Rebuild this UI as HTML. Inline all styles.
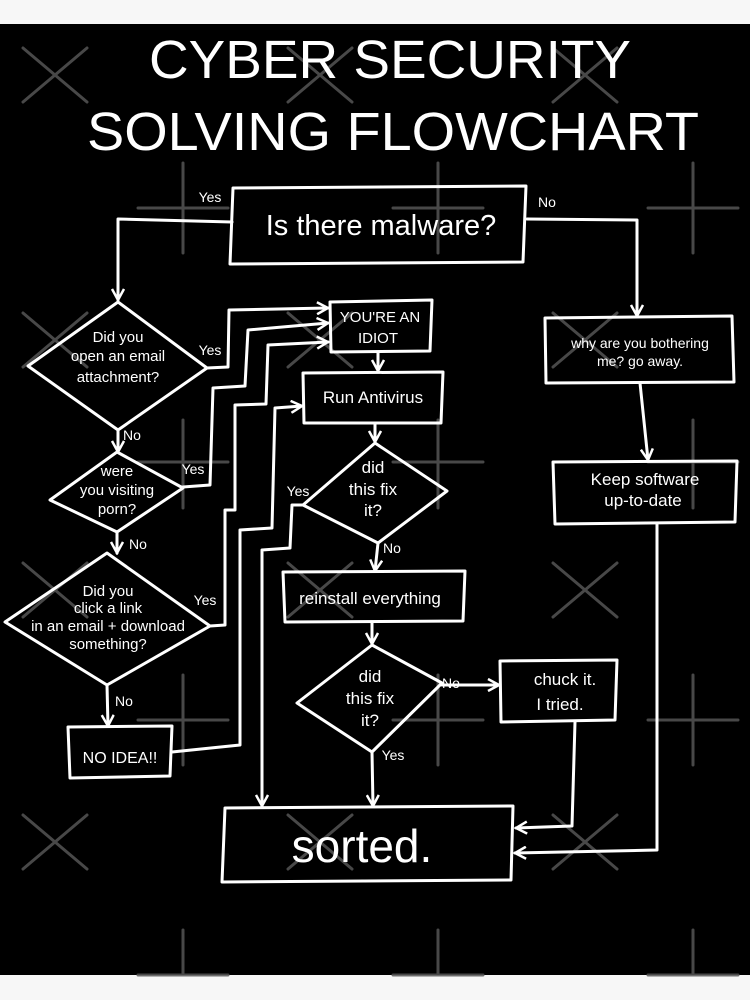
<!DOCTYPE html>
<html><head><meta charset="utf-8"><style>
html,body{margin:0;padding:0;background:#f7f7f7;}
svg{display:block;}
text{font-family:"Liberation Sans Narrow","Liberation Sans",sans-serif;fill:#fff;text-anchor:middle;}
</style></head><body>
<svg width="750" height="1000" viewBox="0 0 750 1000" xmlns="http://www.w3.org/2000/svg">
<defs>
<marker id="a" viewBox="0 0 14 14" refX="12" refY="7" markerWidth="14" markerHeight="14" markerUnits="userSpaceOnUse" orient="auto">
<path d="M1,1 L12,7 L1,13" fill="none" stroke="#fff" stroke-width="2.5"/>
</marker>
</defs>
<rect x="0" y="0" width="750" height="1000" fill="#f7f7f7"/>
<rect x="0" y="24" width="750" height="951" fill="#000"/>
<!-- watermarks -->
<g stroke="#555" stroke-width="3" stroke-linecap="round" opacity="0.85">
<path d="M23,48 L87,102 M87,48 L23,102 M288,48 L352,102 M352,48 L288,102 M553,48 L617,102 M617,48 L553,102"/>
<path d="M23,313 L87,367 M87,313 L23,367 M288,313 L352,367 M352,313 L288,367 M553,313 L617,367 M617,313 L553,367"/>
<path d="M23,563 L87,617 M87,563 L23,617 M288,563 L352,617 M352,563 L288,617 M553,563 L617,617 M617,563 L553,617"/>
<path d="M23,815 L87,869 M87,815 L23,869 M288,815 L352,869 M352,815 L288,869 M553,815 L617,869 M617,815 L553,869"/>
<path d="M183,163 V253 M138,208 H228 M438,163 V253 M393,208 H483 M693,163 V253 M648,208 H738"/>
<path d="M183,420 V508 M138,462 H228 M438,420 V508 M393,462 H483 M693,420 V508 M648,462 H738"/>
<path d="M183,675 V765 M138,720 H228 M438,675 V765 M393,720 H483 M693,675 V765 M648,720 H738"/>
<path d="M183,930 V975 M138,975 H228 M438,930 V975 M393,975 H483 M693,930 V975 M648,975 H738"/>
</g>
<!-- title -->
<text x="390" y="78" font-size="54" textLength="482" lengthAdjust="spacingAndGlyphs">CYBER SECURITY</text>
<text x="393" y="150" font-size="54" textLength="612" lengthAdjust="spacingAndGlyphs">SOLVING FLOWCHART</text>
<g fill="none" stroke="#fff" stroke-width="3" stroke-linejoin="round" stroke-linecap="round">
<!-- boxes -->
<path d="M233,188 L526,186 L523,262 L230,264 Z"/>
<path d="M545,318 L732,316 L734,382 L546,383 Z"/>
<path d="M553,462 L737,461 L735,522 L555,524 Z"/>
<path d="M330,302 L432,300 L430,351 L331,352 Z"/>
<path d="M303,373 L443,372 L441,423 L304,423 Z"/>
<path d="M283,572 L465,571 L463,621 L285,622 Z"/>
<path d="M500,661 L617,660 L615,720 L501,722 Z"/>
<path d="M68,727 L172,726 L170,776 L70,778 Z"/>
<path d="M225,808 L513,806 L511,880 L222,882 Z"/>
<!-- diamonds -->
<path d="M118,302 L207,368 L118,430 L28,366 Z"/>
<path d="M117,452 L183,488 L117,532 L50,500 Z"/>
<path d="M107,553 L210,626 L107,685 L5,622 Z"/>
<path d="M375,443 L447,491 L378,543 L303,505 Z"/>
<path d="M372,645 L442,683 L372,752 L297,703 Z"/>
<!-- connectors -->
<path d="M232,222 L118,219 L118,300" marker-end="url(#a)"/>
<path d="M527,219 L637,220 L637,316" marker-end="url(#a)"/>
<path d="M640,383 L648,460" marker-end="url(#a)"/>
<path d="M657,524 L657,850 L515,853" marker-end="url(#a)"/>
<path d="M118,430 L118,452" marker-end="url(#a)"/>
<path d="M117,532 L117,553" marker-end="url(#a)"/>
<path d="M107,685 L108,726" marker-end="url(#a)"/>
<path d="M207,368 L228,367 L229,310 L328,308" marker-end="url(#a)"/>
<path d="M183,487 L210,485 L213,388 L245,386 L248,330 L328,323" marker-end="url(#a)"/>
<path d="M210,626 L225,625 L225,510 L235,510 L235,405 L266,404 L268,345 L328,342" marker-end="url(#a)"/>
<path d="M172,752 L240,745 L240,530 L272,528 L275,408 L302,406" marker-end="url(#a)"/>
<path d="M378,352 L378,371" marker-end="url(#a)"/>
<path d="M375,423 L375,442" marker-end="url(#a)"/>
<path d="M303,505 L292,505 L290,548 L262,550 L262,806" marker-end="url(#a)"/>
<path d="M378,543 L375,571" marker-end="url(#a)"/>
<path d="M372,622 L372,644" marker-end="url(#a)"/>
<path d="M442,685 L499,685" marker-end="url(#a)"/>
<path d="M372,752 L373,806" marker-end="url(#a)"/>
<path d="M575,722 L572,826 L516,828" marker-end="url(#a)"/>
</g>
<!-- labels -->
<g font-size="14">
<text x="210" y="202">Yes</text>
<text x="547" y="207">No</text>
<text x="210" y="355">Yes</text>
<text x="132" y="440">No</text>
<text x="193" y="474">Yes</text>
<text x="138" y="549">No</text>
<text x="205" y="605">Yes</text>
<text x="124" y="706">No</text>
<text x="298" y="496">Yes</text>
<text x="392" y="553">No</text>
<text x="451" y="688">No</text>
<text x="393" y="760">Yes</text>
</g>
<text x="381" y="235" font-size="29">Is there malware?</text>
<g font-size="15">
<text x="118" y="342">Did you</text>
<text x="118" y="361">open an email</text>
<text x="118" y="382">attachment?</text>
<text x="117" y="476">were</text>
<text x="117" y="495">you visiting</text>
<text x="117" y="514">porn?</text>
<text x="108" y="596">Did you</text>
<text x="108" y="613">click a link</text>
<text x="108" y="631">in an email + download</text>
<text x="108" y="649">something?</text>
<text x="380" y="322">YOU'RE AN</text>
<text x="378" y="343">IDIOT</text>
<text x="640" y="348" font-size="14">why are you bothering</text>
<text x="640" y="366" font-size="14">me? go away.</text>
</g>
<text x="120" y="763" font-size="16">NO IDEA!!</text>
<g font-size="17">
<text x="373" y="403">Run Antivirus</text>
<text x="373" y="473">did</text>
<text x="373" y="495">this fix</text>
<text x="373" y="516">it?</text>
<text x="370" y="604">reinstall everything</text>
<text x="370" y="682">did</text>
<text x="370" y="704">this fix</text>
<text x="370" y="726">it?</text>
<text x="565" y="685">chuck it.</text>
<text x="560" y="710">I tried.</text>
<text x="645" y="485">Keep software</text>
<text x="643" y="506">up-to-date</text>
</g>
<text x="362" y="862" font-size="46">sorted.</text>
</svg>
</body></html>
